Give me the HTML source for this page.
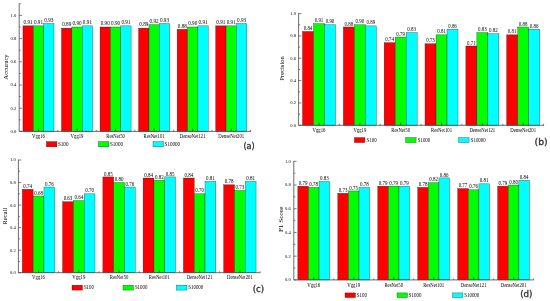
<!DOCTYPE html><html><head><meta charset="utf-8"><title>Figure</title><style>html,body{margin:0;padding:0;background:#fff}svg{display:block}text{font-family:"Liberation Serif",serif;fill:#000}.t{font-family:"DejaVu Sans","Liberation Sans",sans-serif;fill:#333}</style></head><body>
<svg width="550" height="301" viewBox="0 0 550 301">
<rect width="550" height="301" fill="#fff"/>
<g>
<rect x="22.95" y="25.84" width="10.35" height="105.56" fill="#ff0000" stroke="#000" stroke-opacity=".7" stroke-width=".4"/>
<text transform="translate(28.13 24.14) scale(1 1.07)" font-size="5.20" text-anchor="middle">0.91</text>
<rect x="33.30" y="25.84" width="10.35" height="105.56" fill="#00ff00" stroke="#000" stroke-opacity=".7" stroke-width=".4"/>
<text transform="translate(38.48 24.14) scale(1 1.07)" font-size="5.20" text-anchor="middle">0.91</text>
<rect x="43.65" y="23.52" width="10.35" height="107.88" fill="#00ffff" stroke="#000" stroke-opacity=".7" stroke-width=".4"/>
<text transform="translate(48.83 21.82) scale(1 1.07)" font-size="5.20" text-anchor="middle">0.93</text>
<rect x="61.50" y="28.16" width="10.35" height="103.24" fill="#ff0000" stroke="#000" stroke-opacity=".7" stroke-width=".4"/>
<text transform="translate(66.68 26.46) scale(1 1.07)" font-size="5.20" text-anchor="middle">0.89</text>
<rect x="71.85" y="27.00" width="10.35" height="104.40" fill="#00ff00" stroke="#000" stroke-opacity=".7" stroke-width=".4"/>
<text transform="translate(77.03 25.30) scale(1 1.07)" font-size="5.20" text-anchor="middle">0.90</text>
<rect x="82.20" y="25.84" width="10.35" height="105.56" fill="#00ffff" stroke="#000" stroke-opacity=".7" stroke-width=".4"/>
<text transform="translate(87.38 24.14) scale(1 1.07)" font-size="5.20" text-anchor="middle">0.91</text>
<rect x="100.05" y="27.00" width="10.35" height="104.40" fill="#ff0000" stroke="#000" stroke-opacity=".7" stroke-width=".4"/>
<text transform="translate(105.23 25.30) scale(1 1.07)" font-size="5.20" text-anchor="middle">0.90</text>
<rect x="110.40" y="27.00" width="10.35" height="104.40" fill="#00ff00" stroke="#000" stroke-opacity=".7" stroke-width=".4"/>
<text transform="translate(115.58 25.30) scale(1 1.07)" font-size="5.20" text-anchor="middle">0.90</text>
<rect x="120.75" y="25.84" width="10.35" height="105.56" fill="#00ffff" stroke="#000" stroke-opacity=".7" stroke-width=".4"/>
<text transform="translate(125.93 24.14) scale(1 1.07)" font-size="5.20" text-anchor="middle">0.91</text>
<rect x="138.60" y="28.16" width="10.35" height="103.24" fill="#ff0000" stroke="#000" stroke-opacity=".7" stroke-width=".4"/>
<text transform="translate(143.78 26.46) scale(1 1.07)" font-size="5.20" text-anchor="middle">0.89</text>
<rect x="148.95" y="24.68" width="10.35" height="106.72" fill="#00ff00" stroke="#000" stroke-opacity=".7" stroke-width=".4"/>
<text transform="translate(154.12 22.98) scale(1 1.07)" font-size="5.20" text-anchor="middle">0.92</text>
<rect x="159.30" y="23.52" width="10.35" height="107.88" fill="#00ffff" stroke="#000" stroke-opacity=".7" stroke-width=".4"/>
<text transform="translate(164.47 21.82) scale(1 1.07)" font-size="5.20" text-anchor="middle">0.93</text>
<rect x="177.15" y="29.32" width="10.35" height="102.08" fill="#ff0000" stroke="#000" stroke-opacity=".7" stroke-width=".4"/>
<text transform="translate(182.33 27.62) scale(1 1.07)" font-size="5.20" text-anchor="middle">0.88</text>
<rect x="187.50" y="27.00" width="10.35" height="104.40" fill="#00ff00" stroke="#000" stroke-opacity=".7" stroke-width=".4"/>
<text transform="translate(192.68 25.30) scale(1 1.07)" font-size="5.20" text-anchor="middle">0.90</text>
<rect x="197.85" y="25.84" width="10.35" height="105.56" fill="#00ffff" stroke="#000" stroke-opacity=".7" stroke-width=".4"/>
<text transform="translate(203.03 24.14) scale(1 1.07)" font-size="5.20" text-anchor="middle">0.91</text>
<rect x="215.70" y="25.84" width="10.35" height="105.56" fill="#ff0000" stroke="#000" stroke-opacity=".7" stroke-width=".4"/>
<text transform="translate(220.88 24.14) scale(1 1.07)" font-size="5.20" text-anchor="middle">0.91</text>
<rect x="226.05" y="25.84" width="10.35" height="105.56" fill="#00ff00" stroke="#000" stroke-opacity=".7" stroke-width=".4"/>
<text transform="translate(231.23 24.14) scale(1 1.07)" font-size="5.20" text-anchor="middle">0.91</text>
<rect x="236.40" y="23.52" width="10.35" height="107.88" fill="#00ffff" stroke="#000" stroke-opacity=".7" stroke-width=".4"/>
<text transform="translate(241.58 21.82) scale(1 1.07)" font-size="5.20" text-anchor="middle">0.93</text>
<path d="M19.20 3.40V131.40H250.90" fill="none" stroke="#484848" stroke-width=".8"/>
<path d="M19.20 131.40h2.80M19.20 119.80h1.50M19.20 108.20h2.80M19.20 96.60h1.50M19.20 85.00h2.80M19.20 73.40h1.50M19.20 61.80h2.80M19.20 50.20h1.50M19.20 38.60h2.80M19.20 27.00h1.50M19.20 15.40h2.80M19.20 3.80h1.50M38.48 131.40v-2.8M57.75 131.40v-1.5M77.03 131.40v-2.8M96.30 131.40v-1.5M115.58 131.40v-2.8M134.85 131.40v-1.5M154.12 131.40v-2.8M173.40 131.40v-1.5M192.68 131.40v-2.8M211.95 131.40v-1.5M231.23 131.40v-2.8M250.50 131.40v-1.5" fill="none" stroke="#484848" stroke-width=".7"/>
<text transform="translate(16.20 132.85) scale(1 1.07)" font-size="4.60" text-anchor="end">0.0</text>
<text transform="translate(16.20 109.65) scale(1 1.07)" font-size="4.60" text-anchor="end">0.2</text>
<text transform="translate(16.20 86.45) scale(1 1.07)" font-size="4.60" text-anchor="end">0.4</text>
<text transform="translate(16.20 63.25) scale(1 1.07)" font-size="4.60" text-anchor="end">0.6</text>
<text transform="translate(16.20 40.05) scale(1 1.07)" font-size="4.60" text-anchor="end">0.8</text>
<text transform="translate(16.20 16.85) scale(1 1.07)" font-size="4.60" text-anchor="end">1.0</text>
<text transform="translate(38.48 137.90) scale(1 1.07)" font-size="4.75" text-anchor="middle">Vgg16</text>
<text transform="translate(77.03 137.90) scale(1 1.07)" font-size="4.75" text-anchor="middle">Vgg19</text>
<text transform="translate(115.58 137.90) scale(1 1.07)" font-size="4.75" text-anchor="middle">ResNet50</text>
<text transform="translate(154.12 137.90) scale(1 1.07)" font-size="4.75" text-anchor="middle">ResNet101</text>
<text transform="translate(192.68 137.90) scale(1 1.07)" font-size="4.75" text-anchor="middle">DenseNet121</text>
<text transform="translate(231.23 137.90) scale(1 1.07)" font-size="4.75" text-anchor="middle">DenseNet201</text>
<text transform="translate(7.50 67.00) rotate(-90)" font-size="6.60" text-anchor="middle" fill="#2e2e2e">Accuracy</text>
<rect x="46.40" y="141.60" width="10.5" height="5.20" fill="#ff0000" stroke="#000" stroke-opacity=".7" stroke-width=".4"/>
<text transform="translate(58.00 146.04) scale(1 1.07)" font-size="5.10">S100</text>
<rect x="98.40" y="141.60" width="10.5" height="5.20" fill="#00ff00" stroke="#000" stroke-opacity=".7" stroke-width=".4"/>
<text transform="translate(110.00 146.04) scale(1 1.07)" font-size="5.10">S1000</text>
<rect x="153.00" y="141.60" width="10.5" height="5.20" fill="#00ffff" stroke="#000" stroke-opacity=".7" stroke-width=".4"/>
<text transform="translate(164.60 146.04) scale(1 1.07)" font-size="5.10">S10000</text>
<text class="t" transform="translate(243.40 148.80) scale(0.950 1)" font-size="8.55" stroke="#333" stroke-width=".32">(a)</text>
</g>
<g>
<rect x="302.52" y="31.47" width="11.00" height="93.83" fill="#ff0000" stroke="#000" stroke-opacity=".7" stroke-width=".4"/>
<text transform="translate(308.02 30.07) scale(1 1.07)" font-size="4.95" text-anchor="middle">0.84</text>
<rect x="313.52" y="23.65" width="11.00" height="101.65" fill="#00ff00" stroke="#000" stroke-opacity=".7" stroke-width=".4"/>
<text transform="translate(319.02 22.25) scale(1 1.07)" font-size="4.95" text-anchor="middle">0.91</text>
<rect x="324.52" y="24.77" width="11.00" height="100.53" fill="#00ffff" stroke="#000" stroke-opacity=".7" stroke-width=".4"/>
<text transform="translate(330.02 23.37) scale(1 1.07)" font-size="4.95" text-anchor="middle">0.90</text>
<rect x="343.35" y="27.00" width="11.00" height="98.30" fill="#ff0000" stroke="#000" stroke-opacity=".7" stroke-width=".4"/>
<text transform="translate(348.85 25.60) scale(1 1.07)" font-size="4.95" text-anchor="middle">0.88</text>
<rect x="354.35" y="24.77" width="11.00" height="100.53" fill="#00ff00" stroke="#000" stroke-opacity=".7" stroke-width=".4"/>
<text transform="translate(359.85 23.37) scale(1 1.07)" font-size="4.95" text-anchor="middle">0.90</text>
<rect x="365.35" y="25.89" width="11.00" height="99.41" fill="#00ffff" stroke="#000" stroke-opacity=".7" stroke-width=".4"/>
<text transform="translate(370.85 24.49) scale(1 1.07)" font-size="4.95" text-anchor="middle">0.89</text>
<rect x="384.18" y="42.64" width="11.00" height="82.66" fill="#ff0000" stroke="#000" stroke-opacity=".7" stroke-width=".4"/>
<text transform="translate(389.68 41.24) scale(1 1.07)" font-size="4.95" text-anchor="middle">0.74</text>
<rect x="395.18" y="37.06" width="11.00" height="88.24" fill="#00ff00" stroke="#000" stroke-opacity=".7" stroke-width=".4"/>
<text transform="translate(400.68 35.66) scale(1 1.07)" font-size="4.95" text-anchor="middle">0.79</text>
<rect x="406.18" y="32.59" width="11.00" height="92.71" fill="#00ffff" stroke="#000" stroke-opacity=".7" stroke-width=".4"/>
<text transform="translate(411.68 31.19) scale(1 1.07)" font-size="4.95" text-anchor="middle">0.83</text>
<rect x="425.02" y="43.76" width="11.00" height="81.54" fill="#ff0000" stroke="#000" stroke-opacity=".7" stroke-width=".4"/>
<text transform="translate(430.52 42.36) scale(1 1.07)" font-size="4.95" text-anchor="middle">0.73</text>
<rect x="436.02" y="34.82" width="11.00" height="90.48" fill="#00ff00" stroke="#000" stroke-opacity=".7" stroke-width=".4"/>
<text transform="translate(441.52 33.42) scale(1 1.07)" font-size="4.95" text-anchor="middle">0.81</text>
<rect x="447.02" y="29.24" width="11.00" height="96.06" fill="#00ffff" stroke="#000" stroke-opacity=".7" stroke-width=".4"/>
<text transform="translate(452.52 27.84) scale(1 1.07)" font-size="4.95" text-anchor="middle">0.86</text>
<rect x="465.85" y="45.99" width="11.00" height="79.31" fill="#ff0000" stroke="#000" stroke-opacity=".7" stroke-width=".4"/>
<text transform="translate(471.35 44.59) scale(1 1.07)" font-size="4.95" text-anchor="middle">0.71</text>
<rect x="476.85" y="32.59" width="11.00" height="92.71" fill="#00ff00" stroke="#000" stroke-opacity=".7" stroke-width=".4"/>
<text transform="translate(482.35 31.19) scale(1 1.07)" font-size="4.95" text-anchor="middle">0.83</text>
<rect x="487.85" y="33.71" width="11.00" height="91.59" fill="#00ffff" stroke="#000" stroke-opacity=".7" stroke-width=".4"/>
<text transform="translate(493.35 32.31) scale(1 1.07)" font-size="4.95" text-anchor="middle">0.82</text>
<rect x="506.68" y="34.82" width="11.00" height="90.48" fill="#ff0000" stroke="#000" stroke-opacity=".7" stroke-width=".4"/>
<text transform="translate(512.18 33.42) scale(1 1.07)" font-size="4.95" text-anchor="middle">0.81</text>
<rect x="517.68" y="27.00" width="11.00" height="98.30" fill="#00ff00" stroke="#000" stroke-opacity=".7" stroke-width=".4"/>
<text transform="translate(523.18 25.60) scale(1 1.07)" font-size="4.95" text-anchor="middle">0.88</text>
<rect x="528.68" y="29.24" width="11.00" height="96.06" fill="#00ffff" stroke="#000" stroke-opacity=".7" stroke-width=".4"/>
<text transform="translate(534.18 27.84) scale(1 1.07)" font-size="4.95" text-anchor="middle">0.86</text>
<path d="M298.60 13.20V125.30H544.00" fill="none" stroke="#484848" stroke-width=".8"/>
<path d="M298.60 125.30h2.80M298.60 114.13h1.50M298.60 102.96h2.80M298.60 91.79h1.50M298.60 80.62h2.80M298.60 69.45h1.50M298.60 58.28h2.80M298.60 47.11h1.50M298.60 35.94h2.80M298.60 24.77h1.50M298.60 13.60h2.80M319.02 125.30v-2.8M339.43 125.30v-1.5M359.85 125.30v-2.8M380.27 125.30v-1.5M400.68 125.30v-2.8M421.10 125.30v-1.5M441.52 125.30v-2.8M461.93 125.30v-1.5M482.35 125.30v-2.8M502.77 125.30v-1.5M523.18 125.30v-2.8M543.60 125.30v-1.5" fill="none" stroke="#484848" stroke-width=".7"/>
<text transform="translate(296.00 126.75) scale(1 1.07)" font-size="4.60" text-anchor="end">0.0</text>
<text transform="translate(296.00 104.41) scale(1 1.07)" font-size="4.60" text-anchor="end">0.2</text>
<text transform="translate(296.00 82.07) scale(1 1.07)" font-size="4.60" text-anchor="end">0.4</text>
<text transform="translate(296.00 59.73) scale(1 1.07)" font-size="4.60" text-anchor="end">0.6</text>
<text transform="translate(296.00 37.39) scale(1 1.07)" font-size="4.60" text-anchor="end">0.8</text>
<text transform="translate(296.00 15.05) scale(1 1.07)" font-size="4.60" text-anchor="end">1.0</text>
<text transform="translate(319.02 131.90) scale(1 1.07)" font-size="4.75" text-anchor="middle">Vgg16</text>
<text transform="translate(359.85 131.90) scale(1 1.07)" font-size="4.75" text-anchor="middle">Vgg19</text>
<text transform="translate(400.68 131.90) scale(1 1.07)" font-size="4.75" text-anchor="middle">ResNet50</text>
<text transform="translate(441.52 131.90) scale(1 1.07)" font-size="4.75" text-anchor="middle">ResNet101</text>
<text transform="translate(482.35 131.90) scale(1 1.07)" font-size="4.75" text-anchor="middle">DenseNet121</text>
<text transform="translate(523.18 131.90) scale(1 1.07)" font-size="4.75" text-anchor="middle">DenseNet201</text>
<text transform="translate(284.40 68.45) rotate(-90)" font-size="6.60" text-anchor="middle" fill="#2e2e2e">Precision</text>
<rect x="354.40" y="137.60" width="10.5" height="5.00" fill="#ff0000" stroke="#000" stroke-opacity=".7" stroke-width=".4"/>
<text transform="translate(366.60 141.85) scale(1 1.07)" font-size="4.85">S100</text>
<rect x="405.60" y="137.60" width="10.5" height="5.00" fill="#00ff00" stroke="#000" stroke-opacity=".7" stroke-width=".4"/>
<text transform="translate(417.80 141.85) scale(1 1.07)" font-size="4.85">S1000</text>
<rect x="458.60" y="137.60" width="10.5" height="5.00" fill="#00ffff" stroke="#000" stroke-opacity=".7" stroke-width=".4"/>
<text transform="translate(470.80 141.85) scale(1 1.07)" font-size="4.85">S10000</text>
<text class="t" transform="translate(534.50 145.00) scale(1.000 1)" font-size="9.30" stroke="#333" stroke-width=".32">(b)</text>
</g>
<g>
<rect x="22.33" y="189.30" width="10.80" height="83.40" fill="#ff0000" stroke="#000" stroke-opacity=".7" stroke-width=".4"/>
<text transform="translate(27.73 187.90) scale(1 1.07)" font-size="5.00" text-anchor="middle">0.74</text>
<rect x="33.13" y="196.06" width="10.80" height="76.64" fill="#00ff00" stroke="#000" stroke-opacity=".7" stroke-width=".4"/>
<text transform="translate(38.53 194.66) scale(1 1.07)" font-size="5.00" text-anchor="middle">0.68</text>
<rect x="43.93" y="187.05" width="10.80" height="85.65" fill="#00ffff" stroke="#000" stroke-opacity=".7" stroke-width=".4"/>
<text transform="translate(49.33 185.65) scale(1 1.07)" font-size="5.00" text-anchor="middle">0.76</text>
<rect x="62.60" y="201.70" width="10.80" height="71.00" fill="#ff0000" stroke="#000" stroke-opacity=".7" stroke-width=".4"/>
<text transform="translate(68.00 200.30) scale(1 1.07)" font-size="5.00" text-anchor="middle">0.63</text>
<rect x="73.40" y="200.57" width="10.80" height="72.13" fill="#00ff00" stroke="#000" stroke-opacity=".7" stroke-width=".4"/>
<text transform="translate(78.80 199.17) scale(1 1.07)" font-size="5.00" text-anchor="middle">0.64</text>
<rect x="84.20" y="193.81" width="10.80" height="78.89" fill="#00ffff" stroke="#000" stroke-opacity=".7" stroke-width=".4"/>
<text transform="translate(89.60 192.41) scale(1 1.07)" font-size="5.00" text-anchor="middle">0.70</text>
<rect x="102.87" y="176.90" width="10.80" height="95.80" fill="#ff0000" stroke="#000" stroke-opacity=".7" stroke-width=".4"/>
<text transform="translate(108.27 175.50) scale(1 1.07)" font-size="5.00" text-anchor="middle">0.85</text>
<rect x="113.67" y="182.54" width="10.80" height="90.16" fill="#00ff00" stroke="#000" stroke-opacity=".7" stroke-width=".4"/>
<text transform="translate(119.07 181.14) scale(1 1.07)" font-size="5.00" text-anchor="middle">0.80</text>
<rect x="124.47" y="187.05" width="10.80" height="85.65" fill="#00ffff" stroke="#000" stroke-opacity=".7" stroke-width=".4"/>
<text transform="translate(129.87 185.65) scale(1 1.07)" font-size="5.00" text-anchor="middle">0.76</text>
<rect x="143.13" y="178.03" width="10.80" height="94.67" fill="#ff0000" stroke="#000" stroke-opacity=".7" stroke-width=".4"/>
<text transform="translate(148.53 176.63) scale(1 1.07)" font-size="5.00" text-anchor="middle">0.84</text>
<rect x="153.93" y="180.29" width="10.80" height="92.41" fill="#00ff00" stroke="#000" stroke-opacity=".7" stroke-width=".4"/>
<text transform="translate(159.33 178.89) scale(1 1.07)" font-size="5.00" text-anchor="middle">0.82</text>
<rect x="164.73" y="176.90" width="10.80" height="95.80" fill="#00ffff" stroke="#000" stroke-opacity=".7" stroke-width=".4"/>
<text transform="translate(170.13 175.50) scale(1 1.07)" font-size="5.00" text-anchor="middle">0.85</text>
<rect x="183.40" y="178.03" width="10.80" height="94.67" fill="#ff0000" stroke="#000" stroke-opacity=".7" stroke-width=".4"/>
<text transform="translate(188.80 176.63) scale(1 1.07)" font-size="5.00" text-anchor="middle">0.84</text>
<rect x="194.20" y="193.81" width="10.80" height="78.89" fill="#00ff00" stroke="#000" stroke-opacity=".7" stroke-width=".4"/>
<text transform="translate(199.60 192.41) scale(1 1.07)" font-size="5.00" text-anchor="middle">0.70</text>
<rect x="205.00" y="181.41" width="10.80" height="91.29" fill="#00ffff" stroke="#000" stroke-opacity=".7" stroke-width=".4"/>
<text transform="translate(210.40 180.01) scale(1 1.07)" font-size="5.00" text-anchor="middle">0.81</text>
<rect x="223.67" y="184.79" width="10.80" height="87.91" fill="#ff0000" stroke="#000" stroke-opacity=".7" stroke-width=".4"/>
<text transform="translate(229.07 183.39) scale(1 1.07)" font-size="5.00" text-anchor="middle">0.78</text>
<rect x="234.47" y="190.43" width="10.80" height="82.27" fill="#00ff00" stroke="#000" stroke-opacity=".7" stroke-width=".4"/>
<text transform="translate(239.87 189.03) scale(1 1.07)" font-size="5.00" text-anchor="middle">0.73</text>
<rect x="245.27" y="181.41" width="10.80" height="91.29" fill="#00ffff" stroke="#000" stroke-opacity=".7" stroke-width=".4"/>
<text transform="translate(250.67 180.01) scale(1 1.07)" font-size="5.00" text-anchor="middle">0.81</text>
<path d="M18.40 159.60V272.70H260.40" fill="none" stroke="#484848" stroke-width=".8"/>
<path d="M18.40 272.70h2.80M18.40 261.43h1.50M18.40 250.16h2.80M18.40 238.89h1.50M18.40 227.62h2.80M18.40 216.35h1.50M18.40 205.08h2.80M18.40 193.81h1.50M18.40 182.54h2.80M18.40 171.27h1.50M18.40 160.00h2.80M38.53 272.70v-2.8M58.67 272.70v-1.5M78.80 272.70v-2.8M98.93 272.70v-1.5M119.07 272.70v-2.8M139.20 272.70v-1.5M159.33 272.70v-2.8M179.47 272.70v-1.5M199.60 272.70v-2.8M219.73 272.70v-1.5M239.87 272.70v-2.8M260.00 272.70v-1.5" fill="none" stroke="#484848" stroke-width=".7"/>
<text transform="translate(15.80 274.15) scale(1 1.07)" font-size="4.60" text-anchor="end">0.0</text>
<text transform="translate(15.80 251.61) scale(1 1.07)" font-size="4.60" text-anchor="end">0.2</text>
<text transform="translate(15.80 229.07) scale(1 1.07)" font-size="4.60" text-anchor="end">0.4</text>
<text transform="translate(15.80 206.53) scale(1 1.07)" font-size="4.60" text-anchor="end">0.6</text>
<text transform="translate(15.80 183.99) scale(1 1.07)" font-size="4.60" text-anchor="end">0.8</text>
<text transform="translate(15.80 161.45) scale(1 1.07)" font-size="4.60" text-anchor="end">1.0</text>
<text transform="translate(38.53 279.30) scale(1 1.07)" font-size="4.75" text-anchor="middle">Vgg16</text>
<text transform="translate(78.80 279.30) scale(1 1.07)" font-size="4.75" text-anchor="middle">Vgg19</text>
<text transform="translate(119.07 279.30) scale(1 1.07)" font-size="4.75" text-anchor="middle">ResNet50</text>
<text transform="translate(159.33 279.30) scale(1 1.07)" font-size="4.75" text-anchor="middle">ResNet101</text>
<text transform="translate(199.60 279.30) scale(1 1.07)" font-size="4.75" text-anchor="middle">DenseNet121</text>
<text transform="translate(239.87 279.30) scale(1 1.07)" font-size="4.75" text-anchor="middle">DenseNet201</text>
<text transform="translate(6.70 216.35) rotate(-90)" font-size="6.60" text-anchor="middle" fill="#2e2e2e">Recall</text>
<rect x="72.00" y="285.20" width="10.5" height="4.90" fill="#ff0000" stroke="#000" stroke-opacity=".7" stroke-width=".4"/>
<text transform="translate(83.90 289.41) scale(1 1.07)" font-size="4.90">S100</text>
<rect x="123.00" y="285.20" width="10.5" height="4.90" fill="#00ff00" stroke="#000" stroke-opacity=".7" stroke-width=".4"/>
<text transform="translate(134.90 289.41) scale(1 1.07)" font-size="4.90">S1000</text>
<rect x="176.40" y="285.20" width="10.5" height="4.90" fill="#00ffff" stroke="#000" stroke-opacity=".7" stroke-width=".4"/>
<text transform="translate(188.30 289.41) scale(1 1.07)" font-size="4.90">S10000</text>
<text class="t" transform="translate(252.70 291.60) scale(1.000 1)" font-size="8.65" stroke="#333" stroke-width=".32">(c)</text>
</g>
<g>
<rect x="297.83" y="186.21" width="10.60" height="93.69" fill="#ff0000" stroke="#000" stroke-opacity=".7" stroke-width=".4"/>
<text transform="translate(303.13 184.81) scale(1 1.07)" font-size="5.00" text-anchor="middle">0.79</text>
<rect x="308.43" y="187.39" width="10.60" height="92.51" fill="#00ff00" stroke="#000" stroke-opacity=".7" stroke-width=".4"/>
<text transform="translate(313.73 185.99) scale(1 1.07)" font-size="5.00" text-anchor="middle">0.78</text>
<rect x="319.03" y="181.46" width="10.60" height="98.44" fill="#00ffff" stroke="#000" stroke-opacity=".7" stroke-width=".4"/>
<text transform="translate(324.33 180.06) scale(1 1.07)" font-size="5.00" text-anchor="middle">0.83</text>
<rect x="337.80" y="193.32" width="10.60" height="86.58" fill="#ff0000" stroke="#000" stroke-opacity=".7" stroke-width=".4"/>
<text transform="translate(343.10 191.92) scale(1 1.07)" font-size="5.00" text-anchor="middle">0.73</text>
<rect x="348.40" y="190.95" width="10.60" height="88.95" fill="#00ff00" stroke="#000" stroke-opacity=".7" stroke-width=".4"/>
<text transform="translate(353.70 189.55) scale(1 1.07)" font-size="5.00" text-anchor="middle">0.75</text>
<rect x="359.00" y="187.39" width="10.60" height="92.51" fill="#00ffff" stroke="#000" stroke-opacity=".7" stroke-width=".4"/>
<text transform="translate(364.30 185.99) scale(1 1.07)" font-size="5.00" text-anchor="middle">0.78</text>
<rect x="377.77" y="186.21" width="10.60" height="93.69" fill="#ff0000" stroke="#000" stroke-opacity=".7" stroke-width=".4"/>
<text transform="translate(383.07 184.81) scale(1 1.07)" font-size="5.00" text-anchor="middle">0.79</text>
<rect x="388.37" y="186.21" width="10.60" height="93.69" fill="#00ff00" stroke="#000" stroke-opacity=".7" stroke-width=".4"/>
<text transform="translate(393.67 184.81) scale(1 1.07)" font-size="5.00" text-anchor="middle">0.79</text>
<rect x="398.97" y="186.21" width="10.60" height="93.69" fill="#00ffff" stroke="#000" stroke-opacity=".7" stroke-width=".4"/>
<text transform="translate(404.27 184.81) scale(1 1.07)" font-size="5.00" text-anchor="middle">0.79</text>
<rect x="417.73" y="187.39" width="10.60" height="92.51" fill="#ff0000" stroke="#000" stroke-opacity=".7" stroke-width=".4"/>
<text transform="translate(423.03 185.99) scale(1 1.07)" font-size="5.00" text-anchor="middle">0.78</text>
<rect x="428.33" y="182.65" width="10.60" height="97.25" fill="#00ff00" stroke="#000" stroke-opacity=".7" stroke-width=".4"/>
<text transform="translate(433.63 181.25) scale(1 1.07)" font-size="5.00" text-anchor="middle">0.82</text>
<rect x="438.93" y="177.90" width="10.60" height="102.00" fill="#00ffff" stroke="#000" stroke-opacity=".7" stroke-width=".4"/>
<text transform="translate(444.23 176.50) scale(1 1.07)" font-size="5.00" text-anchor="middle">0.86</text>
<rect x="457.70" y="188.58" width="10.60" height="91.32" fill="#ff0000" stroke="#000" stroke-opacity=".7" stroke-width=".4"/>
<text transform="translate(463.00 187.18) scale(1 1.07)" font-size="5.00" text-anchor="middle">0.77</text>
<rect x="468.30" y="189.76" width="10.60" height="90.14" fill="#00ff00" stroke="#000" stroke-opacity=".7" stroke-width=".4"/>
<text transform="translate(473.60 188.36) scale(1 1.07)" font-size="5.00" text-anchor="middle">0.76</text>
<rect x="478.90" y="183.83" width="10.60" height="96.07" fill="#00ffff" stroke="#000" stroke-opacity=".7" stroke-width=".4"/>
<text transform="translate(484.20 182.43) scale(1 1.07)" font-size="5.00" text-anchor="middle">0.81</text>
<rect x="497.67" y="186.21" width="10.60" height="93.69" fill="#ff0000" stroke="#000" stroke-opacity=".7" stroke-width=".4"/>
<text transform="translate(502.97 184.81) scale(1 1.07)" font-size="5.00" text-anchor="middle">0.79</text>
<rect x="508.27" y="185.02" width="10.60" height="94.88" fill="#00ff00" stroke="#000" stroke-opacity=".7" stroke-width=".4"/>
<text transform="translate(513.57 183.62) scale(1 1.07)" font-size="5.00" text-anchor="middle">0.80</text>
<rect x="518.87" y="180.28" width="10.60" height="99.62" fill="#00ffff" stroke="#000" stroke-opacity=".7" stroke-width=".4"/>
<text transform="translate(524.17 178.88) scale(1 1.07)" font-size="5.00" text-anchor="middle">0.84</text>
<path d="M293.80 160.90V279.90H534.00" fill="none" stroke="#484848" stroke-width=".8"/>
<path d="M293.80 279.90h2.80M293.80 268.04h1.50M293.80 256.18h2.80M293.80 244.32h1.50M293.80 232.46h2.80M293.80 220.60h1.50M293.80 208.74h2.80M293.80 196.88h1.50M293.80 185.02h2.80M293.80 173.16h1.50M293.80 161.30h2.80M313.78 279.90v-2.8M333.77 279.90v-1.5M353.75 279.90v-2.8M373.73 279.90v-1.5M393.72 279.90v-2.8M413.70 279.90v-1.5M433.68 279.90v-2.8M453.67 279.90v-1.5M473.65 279.90v-2.8M493.63 279.90v-1.5M513.62 279.90v-2.8M533.60 279.90v-1.5" fill="none" stroke="#484848" stroke-width=".7"/>
<text transform="translate(290.80 281.35) scale(1 1.07)" font-size="4.60" text-anchor="end">0.0</text>
<text transform="translate(290.80 257.63) scale(1 1.07)" font-size="4.60" text-anchor="end">0.2</text>
<text transform="translate(290.80 233.91) scale(1 1.07)" font-size="4.60" text-anchor="end">0.4</text>
<text transform="translate(290.80 210.19) scale(1 1.07)" font-size="4.60" text-anchor="end">0.6</text>
<text transform="translate(290.80 186.47) scale(1 1.07)" font-size="4.60" text-anchor="end">0.8</text>
<text transform="translate(290.80 162.75) scale(1 1.07)" font-size="4.60" text-anchor="end">1.0</text>
<text transform="translate(313.78 286.70) scale(1 1.07)" font-size="4.75" text-anchor="middle">Vgg16</text>
<text transform="translate(353.75 286.70) scale(1 1.07)" font-size="4.75" text-anchor="middle">Vgg19</text>
<text transform="translate(393.72 286.70) scale(1 1.07)" font-size="4.75" text-anchor="middle">ResNet50</text>
<text transform="translate(433.68 286.70) scale(1 1.07)" font-size="4.75" text-anchor="middle">ResNet101</text>
<text transform="translate(473.65 286.70) scale(1 1.07)" font-size="4.75" text-anchor="middle">DenseNet121</text>
<text transform="translate(513.62 286.70) scale(1 1.07)" font-size="4.75" text-anchor="middle">DenseNet201</text>
<text transform="translate(282.60 219.30) rotate(-90)" font-size="7.15" text-anchor="middle" fill="#2e2e2e">F1 Score</text>
<rect x="345.00" y="292.90" width="10.5" height="4.70" fill="#ff0000" stroke="#000" stroke-opacity=".7" stroke-width=".4"/>
<text transform="translate(356.80 297.03) scale(1 1.07)" font-size="4.95">S100</text>
<rect x="397.00" y="292.90" width="10.5" height="4.70" fill="#00ff00" stroke="#000" stroke-opacity=".7" stroke-width=".4"/>
<text transform="translate(408.80 297.03) scale(1 1.07)" font-size="4.95">S1000</text>
<rect x="452.40" y="292.90" width="10.5" height="4.70" fill="#00ffff" stroke="#000" stroke-opacity=".7" stroke-width=".4"/>
<text transform="translate(464.20 297.03) scale(1 1.07)" font-size="4.95">S10000</text>
<text class="t" transform="translate(520.20 296.80) scale(1.040 1)" font-size="8.35" stroke="#333" stroke-width=".32">(d)</text>
</g>
</svg></body></html>
